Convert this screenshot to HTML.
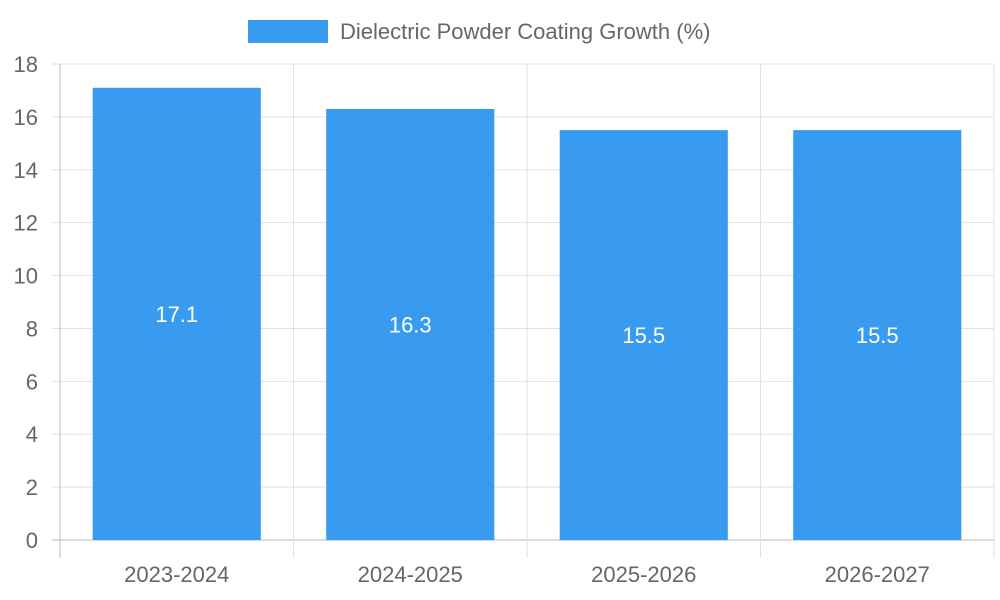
<!DOCTYPE html>
<html><head><meta charset="utf-8">
<style>
html,body{margin:0;padding:0;background:#fff;}
svg{display:block;font-family:"Liberation Sans",sans-serif;}
</style></head>
<body>
<svg id="chart" width="1000" height="600"></svg>
<script>
const categories = ["2023-2024","2024-2025","2025-2026","2026-2027"];
const values = [17.1,16.3,15.5,15.5];
const yTicks = [0,2,4,6,8,10,12,14,16,18];
const seriesLabel = "Dielectric Powder Coating Growth (%)";

const NS="http://www.w3.org/2000/svg";
const svg=document.getElementById("chart");
const L=60,R=994,T=64,B=540,yMax=18;
const yPos=v=>B-(v/yMax)*(B-T);
const catW=(R-L)/categories.length;
const xCenter=i=>L+catW*(i+0.5);
function mk(tag,attrs,parent){const e=document.createElementNS(NS,tag);for(const k in attrs)e.setAttribute(k,attrs[k]);(parent||svg).appendChild(e);return e;}

// legend
const lg=mk("g",{});


const lr=mk("rect",{x:248,y:20,width:80,height:23,fill:"#389bf0"},lg);


const lt=mk("text",{x:340,y:39,"font-size":22,fill:"#666"},lg);
lt.textContent=seriesLabel;



// horizontal grid + y ticks
yTicks.forEach(v=>{
  const y=yPos(v);
  const gl=mk("line",{x1:L-8,x2:R,y1:y,y2:y,stroke:v===0?"#bbb":"#e0e0e0","stroke-width":1});
  
  
  const t=mk("text",{x:L-22,y:y+8,"font-size":22,fill:"#666","text-anchor":"end"});
  t.textContent=v;
  
  
});
// vertical grid
for(let i=0;i<=categories.length;i++){
  const x=L+catW*i;
  const vl=mk("line",{x1:x,x2:x,y1:T,y2:B+18,stroke:i===0?"#bbb":"#e0e0e0","stroke-width":1});
  
  
}
// bars
categories.forEach((c,i)=>{
  const bw=catW*0.72, x=xCenter(i)-bw/2, y=yPos(values[i]);
  const r=mk("rect",{x:x,y:y,width:bw,height:B-y,fill:"#389bf0"});
  
  
  const vt=mk("text",{x:xCenter(i),y:(y+B)/2+8,"font-size":22,fill:"#fff","text-anchor":"middle"});
  vt.textContent=values[i];
  
  
  const xt=mk("text",{x:xCenter(i),y:582,"font-size":22,fill:"#666","text-anchor":"middle"});
  xt.textContent=c;
  
  
});
</script>
</body></html>
